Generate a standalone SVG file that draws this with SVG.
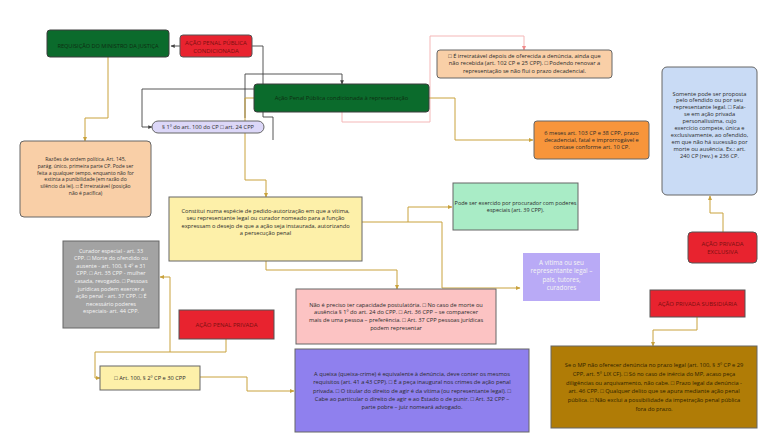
<svg xmlns="http://www.w3.org/2000/svg" width="768" height="447" viewBox="0 0 768 447">
<style>
text{font-family:"Open Sans","Liberation Sans",sans-serif;font-size:5.7px;text-anchor:middle;fill:#2b2b2b}
.b{stroke:#666;stroke-width:1}
.dg{fill:#0b6b2c;stroke:#3c3c3c}
.rd{fill:#e8232f;stroke:#555}
.rt{fill:#7a1010;font-size:6px}
.pe{fill:#f9cfa7}
.or{fill:#f7953b}
.bl{fill:#c9dbf5}
.ye{fill:#fdf0a9}
.mi{fill:#a9ecc6}
.gr{fill:#a3a3a3}
.pk{fill:#fcc3c3}
.lv{fill:#b9aaf6}
.pu{fill:#8f80ee}
.go{fill:#b07c06}
.pl{fill:#dcd7f8}
.g{fill:none;stroke:#c9a23c;stroke-width:1}
.d{fill:none;stroke:#444;stroke-width:0.9}
.p{fill:none;stroke:#f4b7b7;stroke-width:1}
.wt{fill:#f4f4f4}
</style>
<defs>
<marker id="ag" viewBox="0 0 6 6" refX="5" refY="3" markerWidth="5" markerHeight="5" orient="auto"><path d="M0,0.5L5.5,3L0,5.5z" fill="#c9a23c"/></marker>
<marker id="ad" viewBox="0 0 6 6" refX="5" refY="3" markerWidth="5" markerHeight="5" orient="auto"><path d="M0,0.5L5.5,3L0,5.5z" fill="#444"/></marker>
<marker id="ap" viewBox="0 0 6 6" refX="5" refY="3" markerWidth="5" markerHeight="5" orient="auto"><path d="M0,0.5L5.5,3L0,5.5z" fill="#f08a8a"/></marker>
</defs>
<rect width="768" height="447" fill="#fff"/>
<g id="connectors">
<path class="d" d="M180,46H171" marker-end="url(#ad)"/>
<path class="d" d="M252,46H263V84"/>
<path class="d" d="M245,118V74H342V84" marker-end="url(#ad)"/>
<path class="d" d="M254,89H142V127H152" marker-end="url(#ad)"/>
<path class="d" d="M263,112V117H273V140"/>
<path class="p" d="M342,112V122H430V36H524V50" marker-end="url(#ap)"/>
<path class="g" d="M108,57V118H85V141" marker-end="url(#ag)"/>
<path class="g" d="M254,98H245V180H266V197" marker-end="url(#ag)"/>
<path class="g" d="M429,98H455V140H533" marker-end="url(#ag)"/>
<path class="g" d="M362,222H408V207H452" marker-end="url(#ag)"/>
<path class="g" d="M408,222H442V288H520" marker-end="url(#ag)"/>
<path class="g" d="M266,261V270H397V289" marker-end="url(#ag)"/>
<path class="g" d="M226,339V352H170V277H160" marker-end="url(#ag)"/>
<path class="g" d="M170,352H95V378H100" marker-end="url(#ag)"/>
<path class="g" d="M200,377H247V391H294" marker-end="url(#ag)"/>
<path class="g" d="M697,317V330H653V346" marker-end="url(#ag)"/>
<path class="g" d="M723,232V213H710V196" marker-end="url(#ag)"/>
</g>
<g id="requisicao"><rect class="dg" x="47" y="30" width="122" height="27" rx="3"/><text x="108" y="47.5" style="fill:#0e2d12;font-size:5.6px">REQUISIÇÃO DO MINISTRO DA JUSTIÇA</text></g>
<g id="publica-condicionada"><rect class="rd" x="180" y="35" width="72" height="22" rx="3"/><text class="rt" x="216" y="44.5">AÇÃO PENAL PÚBLICA<tspan x="216" dy="8">CONDICIONADA</tspan></text></g>
<g id="irretratavel"><rect class="pe b" x="437" y="50" width="175" height="28" rx="3"/><text x="524.5" y="57.5">□ É irretratável depois de oferecida a denúncia, ainda que<tspan x="524.5" dy="7.8">não recebida (art. 102 CP e 25 CPP). □ Podendo renovar a</tspan><tspan x="524.5" dy="7.8">representação se não flui o prazo decadencial.</tspan></text></g>
<g id="representacao"><rect class="dg" x="254" y="84" width="175" height="28" rx="3"/><text x="341.5" y="100" style="fill:#0e2d12;font-size:5.8px">Ação Penal Pública condicionada à representação</text></g>
<g id="paragrafo"><rect class="pl b" x="152" y="121" width="112" height="12" rx="6"/><text x="208" y="129.2">§ 1º do art. 100 do CP □ art. 24 CPP</text></g>
<g id="razoes"><rect class="pe b" x="20" y="141" width="131" height="76" rx="4"/><text x="85.5" y="161" style="font-size:5px">Razões de ordem política.  Art. 145,<tspan x="85.5" dy="6.8">parág. único, primeira parte CP. Pode ser</tspan><tspan x="85.5" dy="6.8">feita a qualquer tempo, enquanto não for</tspan><tspan x="85.5" dy="6.8">extinta a punibilidade (em razão do</tspan><tspan x="85.5" dy="6.8">silêncio da lei). □ É irretratável (posição</tspan><tspan x="85.5" dy="6.8">não é pacífica)</tspan></text></g>
<g id="prazo"><rect class="or b" x="534" y="121" width="115" height="38" rx="3"/><text x="591.5" y="134.5">6 meses art. 103 CP e 38 CPP, prazo<tspan x="591.5" dy="7.3">decadencial, fatal e improrrogável e</tspan><tspan x="591.5" dy="7.3">contase conforme art. 10 CP.</tspan></text></g>
<g id="somente"><rect class="bl b" x="662" y="67" width="95" height="128" rx="5"/><text x="709.5" y="95.5">Somente pode ser proposta<tspan x="709.5" dy="6.9">pelo ofendido ou por seu</tspan><tspan x="709.5" dy="6.9">representante legal. □ Fala-</tspan><tspan x="709.5" dy="6.9">se em ação privada</tspan><tspan x="709.5" dy="6.9">personalíssima, cujo</tspan><tspan x="709.5" dy="6.9">exercício compete, única e</tspan><tspan x="709.5" dy="6.9">exclusivamente, ao ofendido,</tspan><tspan x="709.5" dy="6.9">em que não há sucessão por</tspan><tspan x="709.5" dy="6.9">morte ou ausência. Ex.: art.</tspan><tspan x="709.5" dy="6.9">240 CP (rev.) e 236 CP.</tspan></text></g>
<g id="privada-exclusiva"><rect class="rd" x="688" y="232" width="69" height="31" rx="4"/><text class="rt" x="722.5" y="246">AÇÃO PRIVADA<tspan x="722.5" dy="8">EXCLUSIVA</tspan></text></g>
<g id="constitui"><rect class="ye b" x="169" y="197" width="193" height="64"/><text x="265.5" y="213">Constitui numa espécie de pedido-autorização em que a vítima,<tspan x="265.5" dy="7.4">seu representante legal ou curador nomeado para a função</tspan><tspan x="265.5" dy="7.4">expressam o desejo de que a ação seja instaurada, autorizando</tspan><tspan x="265.5" dy="7.4">a persecução penal</tspan></text></g>
<g id="procurador"><rect class="mi b" x="453" y="183" width="125" height="47"/><text x="515.5" y="205" style="font-size:5.5px">Pode ser exercido por procurador com poderes<tspan x="515.5" dy="7.2">especiais (art. 39 CPP).</tspan></text></g>
<g id="vitima"><rect class="lv" x="523" y="253" width="77" height="48"/><text class="wt" x="561.5" y="265" style="font-size:6.3px">A vítima ou seu<tspan x="561.5" dy="8.3">representante legal –</tspan><tspan x="561.5" dy="8.3">pais, tutores,</tspan><tspan x="561.5" dy="8.3">curadores</tspan></text></g>
<g id="curador"><rect class="gr b" x="63" y="241" width="96" height="87"/><text class="wt" x="111" y="252.5" style="font-size:5.5px">Curador especial - art. 33<tspan x="111" dy="7.6">CPP. □ Morte do ofendido ou</tspan><tspan x="111" dy="7.6">ausente - art. 100, § 4º e 31</tspan><tspan x="111" dy="7.6">CPP. □ Art. 35 CPP - mulher</tspan><tspan x="111" dy="7.6">casada, revogado. □ Pessoas</tspan><tspan x="111" dy="7.6">jurídicas podem exercer a</tspan><tspan x="111" dy="7.6">ação penal - art. 37 CPP. □ É</tspan><tspan x="111" dy="7.6">necessário poderes</tspan><tspan x="111" dy="7.6">especiais- art. 44 CPP.</tspan></text></g>
<g id="nao-preciso"><rect class="pk b" x="296" y="289" width="200" height="55"/><text x="396" y="306.5">Não é preciso ter capacidade postulatória. □ No caso de morte ou<tspan x="396" dy="7.8">ausência § 1º do art. 24 do CPP. □ Art. 36 CPP – se comparecer</tspan><tspan x="396" dy="7.8">mais de uma pessoa – preferência. □ Art. 37 CPP pessoas jurídicas</tspan><tspan x="396" dy="7.8">podem representar</tspan></text></g>
<g id="penal-privada"><rect class="rd" x="179" y="310" width="95" height="29"/><text class="rt" x="226.5" y="326.5">AÇÃO PENAL PRIVADA</text></g>
<g id="art100"><rect class="ye b" x="100" y="366" width="100" height="24"/><text x="150" y="380">□ Art. 100, § 2º CP e 30 CPP</text></g>
<g id="queixa"><rect class="pu b" x="295" y="349" width="234" height="83"/><text x="412" y="376">A queixa (queixa-crime) é equivalente à denúncia, deve conter os mesmos<tspan x="412" dy="8.3">requisitos (art. 41 a 43 CPP). □ É a peça inaugural nos crimes de ação penal</tspan><tspan x="412" dy="8.3">privada. □ O titular do direito de agir é da vítima (ou representante legal). □</tspan><tspan x="412" dy="8.3">Cabe ao particular o direito de agir e ao Estado o de punir. □ Art. 32 CPP –</tspan><tspan x="412" dy="8.3">parte pobre – juiz nomeará advogado.</tspan></text></g>
<g id="privada-subsidiaria"><rect class="rd" x="650" y="290" width="95" height="27"/><text class="rt" x="697.5" y="305.5">AÇÃO PRIVADA SUBSIDIÁRIA</text></g>
<g id="se-o-mp"><rect class="go b" x="551" y="346" width="206" height="82"/><text x="654" y="367" style="fill:#2e2200">Se o MP não oferecer denúncia no prazo legal (art. 100, § 3º CP e 29<tspan x="654" dy="8.8">CPP, art. 5º LIX CF). □ Só no caso de inércia do MP, acaso peça</tspan><tspan x="654" dy="8.8">diligências ou arquivamento, não cabe. □ Prazo legal da denúncia -</tspan><tspan x="654" dy="8.8">art. 46 CPP. □ Qualquer delito que se apura mediante ação penal</tspan><tspan x="654" dy="8.8">pública. □ Não exclui a possibilidade da impetração penal pública</tspan><tspan x="654" dy="8.8">fora do prazo.</tspan></text></g>
</svg>
